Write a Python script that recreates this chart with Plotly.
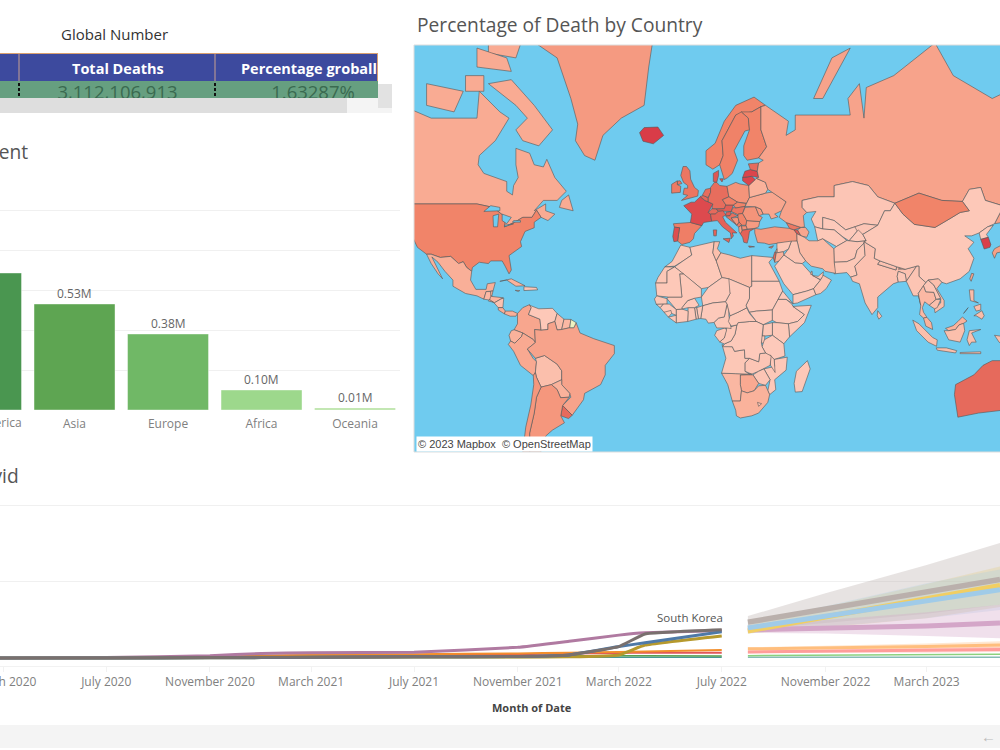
import math
import plotly.graph_objects as go
from plotly.colors import sample_colorscale

FONT = "Open Sans"
W, H = 1000, 750
def fx(p): return p / W
def fy(p): return 1 - p / H

# ---- data ----
kpi_headers = ["Total Deaths", "Percentage groball"]
kpi_values = ["3,112,106,913", "1.63287%"]

continents = ["North America", "Asia", "Europe", "Africa", "Oceania"]
continent_deaths = [0.685, 0.53, 0.38, 0.10, 0.01]
continent_colors = ["#4a9650", "#5ea552", "#70b866", "#9dd88c", "#b5e2a1"]

actual_dates = ["2020-02-01","2020-07-01","2020-11-01","2021-01-01","2021-03-01","2021-07-01",
                "2021-11-01","2022-01-01","2022-03-01","2022-04-01","2022-07-01"]
forecast_dates = ["2022-08-01","2022-11-01","2023-03-01","2023-05-27"]
tick_dates = ["2020-03-01","2020-07-01","2020-11-01","2021-03-01","2021-07-01","2021-11-01",
              "2022-03-01","2022-07-01","2022-11-01","2023-03-01"]

act_green2 = [0,0,0.1,0.3,0.5,0.7,0.8,0.9,1,1,1]
act_green = [0,0.1,0.3,1,1.5,2,2.5,3,3,3,2.6]
act_red = [0,0.2,1,2.5,3.5,4,5,6,6.5,7,7]
act_orange = [0,0.2,1,3,4,5,6,7,8,8.5,10.5]
act_purple = [0,0.5,3,6,7,7.5,14,22,30,33,36]
act_yellow = [0,0,0.3,0.5,1,1.2,1.4,1.5,4,17,29]
act_blue = [0,0,0.3,0.5,1,1.5,2,4,15,20,34.5]
act_korea = [0,0,0.5,1,1,1.5,2,4,15,31.5,37]

fc_green2 = [1,1,1,1]
fc_green = [3,3.5,4,5]
fc_red = [8,9,10,11]
fc_orange = [12,13,15,17]
fc_purple = [37,39,42,46]
fc_yellow = [35.5,54,78,95]
fc_blue = [39.5,55,75,89.5]
fc_korea = [47,64,86,103]

hi_orange = [14,16,19,22]; lo_orange = [10,11,12,13]
hi_red = [10,11,13,15]; lo_red = [6,7,7,8]
hi_purple = [42,50,60,70]; lo_purple = [33,32,29,26]
hi_yellow = [43,67,97,120]; lo_yellow = [32,40,52,67]
hi_blue = [47,68,98,116]; lo_blue = [32,41,52,63]
hi_korea = [55,85,122,151]; lo_korea = [37,46,58,70]

# percentage shade per country, 0 = palest, 1 = deepest
country_values = {
 "Canada":.25,"USA":.5,"Mexico":.22,"Guatemala":.15,"Belize":.2,"Honduras":.18,"ElSalvador":.18,"Nicaragua":.08,"CostaRica":.25,"Panama":.22,
 "Cuba":.2,"Hispaniola":.05,"Jamaica":.15,"Greenland":.36,"Iceland":1,
 "Colombia":.28,"Venezuela":.03,"Guyana":.12,"Suriname":.15,"Ecuador":.2,"Peru":.26,"Bolivia":.1,"Brazil":.3,"Paraguay":.2,"Uruguay":.72,"Argentina":.38,"Chile":.38,
 "Spain":.55,"Portugal":.9,"France":.92,"Belgium":.75,"Netherlands":.7,"Germany":.7,"Switzerland":.72,"Austria":.8,"Italy":.78,"Poland":.4,"Czechia":.55,"Slovakia":.5,"Hungary":.62,"Slovenia":.8,
 "Croatia":.68,"Bosnia":.4,"Serbia":.5,"Montenegro":.6,"Albania":.35,"Macedonia":.42,"Greece":.78,"Bulgaria":.35,"Romania":.4,"Moldova":.35,"Ukraine":.28,"Belarus":.2,
 "Lithuania":.95,"Latvia":.95,"Estonia":.72,"Denmark":.85,"Norway":.5,"Sweden":.52,"Finland":.5,"UK":.62,"NIreland":.62,"Ireland":.58,
 "Turkey":.36,"Georgia":.6,"Armenia":.85,"Azerbaijan":.28,"Cyprus":.6,"Russia":.3,"Kazakhstan":.05,"Uzbekistan":.02,"Turkmenistan":.03,"Kyrgyzstan":.05,"Tajikistan":.02,"Afghanistan":.05,"Pakistan":.04,"Iran":.14,"Iraq":.06,"Syria":.04,"Lebanon":.2,"Israel":.72,"Jordan":.2,"Saudi":.02,"Yemen":.02,"Oman":.06,"UAE":.06,"Qatar":.1,
 "India":.08,"Nepal":.08,"Bhutan":.06,"Bangladesh":.03,"SriLanka":.12,"China":.03,"Mongolia":.5,"NKorea":.02,"SKorea":.98,"Japan":.32,"Taiwan":.3,"Myanmar":.06,"Thailand":.15,"Laos":.05,"Vietnam":.1,"Cambodia":.1,"Malaysia":.2,"Indonesia":.1,"Philippines":.12,"Australia":.72,
 "Morocco":.04,"WSahara":.04,"Algeria":.03,"Tunisia":.1,"Libya":.1,"Egypt":.03,"Sudan":.02,"SSudan":.02,"Eritrea":.02,"Ethiopia":.02,"Somalia":.02,"Kenya":.03,"Uganda":.03,"Rwanda":.03,"Tanzania":.02,"Mozambique":.03,"Malawi":.03,"Zambia":.05,"Zimbabwe":.05,"Botswana":.26,"Namibia":.16,"SouthAfrica":.2,"Lesotho":.05,"Angola":.04,"DRCongo":.02,"Congo":.03,"Gabon":.04,"Cameroon":.03,"CAR":.03,"Chad":.02,"Niger":.02,"Nigeria":.02,"Benin":.02,"Togo":.02,"Ghana":.03,"IvoryCoast":.03,"Burkina":.02,"Mali":.03,"Mauritania":.03,"Senegal":.04,"Guinea":.02,"SierraLeone":.03,"Liberia":.03,"GuineaBissau":.03,"Madagascar":.03,
}
french_guiana_outline = [(-54,5.9),(-51.7,4.5),(-52.7,2.3),(-54.5,2.3)]

# coarse country outlines (lon, lat) read by eye
country_outlines = {
 "Canada":[[(-141,70),(-128,70),(-115,68),(-108,68),(-95,68),(-94,72),(-85,69),(-81,68),(-87,64),(-94,61),(-94.5,59),(-92,57),(-85,55.5),(-82,55),(-82,52.5),(-79.5,51.5),(-79,54),(-77,56),(-78,59),(-78,62.5),(-72,61.5),(-70,59),(-66,58.5),(-64.5,60.2),(-61,56),(-56,52.5),(-60,50),(-66,50),(-70,47),(-65,49),(-65,47),(-61,46),(-64,44),(-67,45),(-69,47.2),(-71,45),(-75,45),(-79,43.3),(-83,42),(-82.5,45),(-88,48),(-95,49),(-123,49),(-130,54),(-135,59),(-141,60)],
   [(-62,66),(-68,63),(-75,64),(-78,66),(-73,68),(-78,70),(-90,73),(-80,73.5),(-70,70)],[(-117,70),(-105,69),(-101,72),(-117,73)],[(-90,76.5),(-78,76),(-75,78),(-60,82),(-90,82)],[(-95,75),(-80,74.5),(-82,76),(-95,77)],[(-100,72),(-92,72),(-92,74),(-100,74)],[(-59,48),(-53,47),(-55,51.5),(-58,50)]],
 "USA":[[(-125,49),(-95,49),(-88,48),(-84,46),(-82.5,45),(-83,42),(-79,43.3),(-75,45),(-71,45),(-69,47.2),(-67,45),(-70,43.5),(-70,41.7),(-74,40.5),(-76,37),(-75.5,35.3),(-81,32),(-80,26.5),(-81,25),(-82.7,28),(-84,30),(-89,30),(-90,29),(-94,29.5),(-97,27.5),(-97.3,26),(-99.5,27.5),(-101,29.7),(-103,29),(-106.5,31.7),(-111,31.3),(-115,32.5),(-117,32.5),(-121,35),(-124,40)]],
 "Mexico":[[(-117,32.5),(-115,32.5),(-111,31.3),(-106.5,31.7),(-103,29),(-101,29.7),(-99.5,27.5),(-97.3,26),(-97.8,22.5),(-95.5,18.7),(-91,18.7),(-90.5,21),(-87,21.5),(-88,18),(-91,17.8),(-92,14.6),(-95,16),(-100,17),(-105.5,20),(-105.5,22.5),(-109,26),(-112,29.5),(-114.7,31.5),(-112,27),(-110,23),(-112,25),(-115,29)]],
 "Guatemala":[[(-92,14.6),(-91,17.8),(-89,17.8),(-88.5,15.8),(-89.5,14.2)]],"Belize":[[(-89,18),(-88,18),(-88.5,16),(-89,16)]],"Honduras":[[(-89,15.8),(-83.5,15.2),(-84.5,14.7),(-87.5,13),(-89.5,14.2)]],"ElSalvador":[[(-90,13.8),(-88,13.2),(-87.7,13.3),(-89.5,14.4)]],"Nicaragua":[[(-87.5,13),(-84.5,14.7),(-83.3,15),(-83.7,11),(-85.7,11)]],"CostaRica":[[(-85.7,11),(-83.7,11),(-82.6,9.5),(-83,8.3),(-85.7,10)]],"Panama":[[(-83,8.3),(-82.6,9.5),(-79.5,9.5),(-77.3,8.5),(-78,7.3),(-80.5,7.3)]],
 "Cuba":[[(-85,22),(-80,23),(-74,20.2),(-78,20),(-82,22.5)]],"Hispaniola":[[(-74.5,19.8),(-69,19.5),(-68.5,18.5),(-74.5,18.2)]],"Jamaica":[[(-78.3,18.3),(-76.3,18.2),(-77,17.8)]],
 "Greenland":[[(-73,78),(-60,76),(-54,71),(-51,67),(-52,64),(-48,61),(-43.5,60),(-40,65),(-32,68),(-22,70),(-20,75),(-18,78),(-18,82),(-60,82)]],
 "Iceland":[[(-24,65.5),(-22,66.4),(-16,66.5),(-13.5,65),(-18,63.4),(-22.5,63.9)]],
 "Colombia":[[(-77.3,8.5),(-75,11),(-72,12.3),(-71.3,11),(-72.5,8),(-70,7),(-67.5,6),(-67,1.2),(-69.8,1.5),(-69.5,-4.2),(-70.5,-2.8),(-75,0),(-78.8,1.4),(-77.3,4),(-77.5,7)]],
 "Venezuela":[[(-72,12),(-68,10.5),(-62,10.7),(-60,8.5),(-61,5),(-64,4),(-64,1.5),(-67,1.2),(-67.5,6),(-70,7),(-72.5,8),(-71.3,11)]],
 "Guyana":[[(-60,8.5),(-57,6),(-58,1.5),(-60,1.3),(-61,5)]],"Suriname":[[(-57,6),(-54,5.9),(-54.5,2.3),(-56,2),(-58,1.5)]],
 "Ecuador":[[(-80,1),(-78.8,1.4),(-75,0),(-75.5,-1.5),(-78.5,-4.5),(-80.3,-3.5),(-81,-1)]],
 "Peru":[[(-80.3,-3.5),(-78.5,-4.5),(-75.5,-1.5),(-75,0),(-70.5,-2.8),(-69.5,-4.2),(-73,-7),(-70.5,-11),(-69,-12.5),(-69.5,-17),(-70.4,-18.3),(-76,-14),(-79,-8),(-81.3,-5)]],
 "Bolivia":[[(-69.5,-11),(-65.5,-9.8),(-60,-13.5),(-58,-16.3),(-58,-20),(-62.5,-22),(-67,-23),(-69,-19),(-69.5,-17),(-69,-12.5)]],
 "Brazil":[[(-51.7,4.5),(-50,0),(-44,-2.5),(-35,-5.5),(-35,-9),(-39,-14),(-39,-18),(-41,-22),(-48,-25.5),(-48.5,-28),(-53.4,-33.8),(-57.6,-30.2),(-54,-27),(-54.5,-25.5),(-58,-22),(-58,-16.3),(-60,-13.5),(-65.5,-9.8),(-69.5,-11),(-73,-7),(-69.5,-4.2),(-69.8,1.5),(-67,1.2),(-64,1.5),(-64,4),(-61,5),(-60,1.3),(-58,1.5),(-54.5,2.3),(-52.7,2.3)]],
 "Paraguay":[[(-62.5,-22),(-58,-20),(-58,-22),(-54.5,-25.5),(-54.7,-27),(-58.5,-27.2),(-60,-24)]],
 "Uruguay":[[(-57.6,-30.2),(-53.4,-33.8),(-55,-35),(-58.4,-34)]],
 "Argentina":[[(-67,-23),(-62.5,-22),(-60,-24),(-58.5,-27.2),(-54.7,-27),(-57.6,-30.2),(-58.4,-34),(-56.8,-36.5),(-62,-39),(-65,-41),(-65,-45),(-67.5,-46),(-72,-46),(-72,-40),(-70,-33),(-69,-27)]],
 "Chile":[[(-70.4,-18.3),(-69.5,-17),(-69,-19),(-67,-23),(-69,-27),(-70,-33),(-72,-40),(-72,-46),(-75,-46),(-73.7,-38),(-71.5,-30),(-70.2,-22)]],
 "Spain":[[(-9.2,43),(-1.8,43.4),(3.2,42.4),(0,39.8),(-0.5,38),(-2,36.8),(-5.5,36),(-7.4,37.2),(-7,39.5),(-6.5,41.7),(-8.8,41.9)]],
 "Portugal":[[(-8.8,41.9),(-6.5,41.7),(-7,39.5),(-7.4,37.2),(-9,37),(-9.5,38.8)]],
 "France":[[(-1.8,43.4),(3.2,42.4),(4,43.4),(7.5,43.8),(7,46),(6,46.5),(8,49),(4.5,50),(2.5,51),(0,49.5),(-1.5,49.5),(-4.7,48.5),(-1.2,46)]],
 "Belgium":[[(2.5,51.1),(4.2,51.4),(6,50.6),(6,49.6),(4.5,50)]],"Netherlands":[[(3.4,51.4),(6,50.8),(7,52.2),(7,53.3),(4.8,53)]],
 "Germany":[[(6,50.6),(6,49.6),(8,49),(7.6,47.6),(13,47.6),(13.7,48.7),(12.2,50.2),(15,51),(14.2,53.8),(11,54),(9.7,54.8),(8.7,54.8),(7,53.5),(7,52.2)]],
 "Switzerland":[[(6,46.5),(7.6,47.6),(9.6,47.5),(10.4,46.7),(9,46),(7,46)]],"Austria":[[(9.6,47.5),(13,47.6),(13.7,48.7),(17,48.7),(16,46.8),(10.4,46.9)]],
 "Italy":[[(7,46),(7.5,43.8),(10,44),(12.2,42),(15.7,40),(16,38),(17,39),(16.5,40),(18.5,40),(16,41.8),(13.5,43.5),(12.3,45.2),(13.7,45.7),(12.5,47),(10.4,46.8),(9,46)],[(12.5,38),(15.6,38.2),(15,36.7)],[(8.2,41),(9.7,41),(9.5,39),(8.4,39)]],
 "Poland":[[(14.2,53.8),(15,51),(18.8,49.5),(22.7,49.2),(24,50.8),(23.7,54),(19.8,54.4),(18,54.8)]],
 "Czechia":[[(12.2,50.2),(13.7,48.7),(17,48.7),(18.8,49.5),(15,51)]],"Slovakia":[[(17,48.7),(18.8,49.5),(22.5,49.1),(22.1,48.3),(18,47.8)]],
 "Hungary":[[(16,46.8),(17,48),(18,47.8),(22.1,48.3),(21,46.2),(18.8,45.9)]],"Slovenia":[[(13.7,45.5),(13.7,46.5),(16,46.8),(15.5,45.5)]],
 "Croatia":[[(13.6,45.3),(15.5,45.5),(16.3,46.4),(19,45.5),(16,44.8),(18.5,42.5),(15,44.5)]],"Bosnia":[[(16,44.8),(19,45),(19.5,43.5),(18.5,42.5)]],
 "Serbia":[[(19,46),(21,46.2),(22.8,44),(22.5,42.5),(20.5,42.5),(19.5,43.5),(19,45)]],"Montenegro":[[(18.5,42.5),(19.5,43.5),(20.5,42.7),(19.3,41.9)]],
 "Albania":[[(19.3,41.9),(20.5,42.5),(20.8,40.5),(20,39.7),(19.4,40.5)]],"Macedonia":[[(20.5,42.3),(22.8,42.3),(23,41.2),(20.9,40.9)]],
 "Greece":[[(20,39.7),(21,40.9),(26.3,41.5),(24,40.5),(23.5,38),(23,36.5),(21.5,36.8),(21,38.5)],[(23.6,35.5),(26.2,35.2),(24,35)]],
 "Bulgaria":[[(22.5,42.5),(22.8,44),(28.5,43.7),(28,42),(26.3,41.5),(23,41.3)]],"Romania":[[(21,46.2),(22.1,48),(26.6,48.2),(28.2,45.5),(29.6,45),(28.5,43.7),(22.8,44)]],
 "Moldova":[[(26.6,48.2),(29,47.5),(30,46),(28.2,45.5)]],
 "Ukraine":[[(22.1,48.3),(22.7,49.2),(24,50.8),(31,52),(34,52.3),(40,49.6),(38,47),(35,46),(36.5,45.2),(33.5,44.5),(32.5,46),(30,46),(29,47.5),(26.6,48.2)]],
 "Belarus":[[(24,50.8),(23.7,54),(27,55.8),(31,54.8),(32,53),(31,52)]],"Lithuania":[[(21,56),(21,55.2),(23.7,54),(26.5,55.5),(25,56.3)]],
 "Latvia":[[(21,56),(25,56.3),(28,56),(27.4,57.5),(24.4,57.9),(22,57.5)]],"Estonia":[[(23.5,59.2),(28,59.4),(27.4,57.5),(24.4,57.9)]],
 "Denmark":[[(8.2,55),(9.7,54.8),(10.5,56.5),(10.5,57.7),(8.2,57)],[(11,55.7),(12.6,55.7),(12,54.9)]],
 "Norway":[[(5,59),(8,58),(11,59),(12.5,61),(12,64),(14.5,66),(18,68.5),(25,69),(29,69.8),(31,70),(26,71.2),(18,70),(13,67.5),(9,63.5),(5,62)]],
 "Sweden":[[(11,59),(13,55.5),(14.5,56),(16.5,57),(18.8,60),(17.3,62),(22,65.8),(24,66),(23.5,68),(20.5,69),(18,68.5),(14.5,66),(12,64),(12.5,61)]],
 "Finland":[[(23.5,68),(24,66),(21.5,63),(21.5,61),(23,60),(28,60.5),(31.5,62.8),(29,66),(29,69.8),(25,69),(20.5,69)]],
 "UK":[[(-5.7,50),(1.4,51.2),(1.7,52.7),(0,53.5),(-1.7,55.6),(-2,57.6),(-3.5,58.6),(-5,58.6),(-6,56.5),(-4.8,54.8),(-3,54),(-3,53.3),(-4.5,53.3),(-5,51.7),(-3,51.4)]],
 "NIreland":[[(-7.5,54.2),(-5.5,54.5),(-6.3,55.2),(-7.5,55.1)]],"Ireland":[[(-10,52),(-6.2,52.2),(-6,53.8),(-7.5,54.2),(-7.5,55.2),(-10,54.3)]],
 "Turkey":[[(26.3,40),(26.3,41.5),(29,41.2),(35,42),(41.5,41.5),(43.5,41),(44.7,39.7),(44.8,37.2),(36.5,36.5),(32.5,36),(30.5,36.5),(27.5,36.7)]],
 "Georgia":[[(40,43.4),(46.5,41.8),(43.5,41),(41.5,41.5)]],"Armenia":[[(43.5,41),(45,41),(46.5,39),(44.7,39.7)]],"Azerbaijan":[[(45,41),(46.5,41.8),(48.5,41.8),(50,40.3),(49,38.5),(46.5,39)]],"Cyprus":[[(32.4,35),(34.5,35.6),(33.7,34.7)]],
 "Russia":[[(28,59.4),(30,60),(28,60.5),(31.5,62.8),(29,66),(29,69.8),(31,70),(41,67.5),(40,65),(44,66),(44,68.5),(54,68.5),(68,68.5),(67,71),(72,73),(74,68),(75,72.5),(87,74),(105,77.5),(113,74),(130,71),(140,72.5),(180,69),(180,65),(160,60),(156,51),(156,57),(142,59),(135,54.5),(141,52),(135,43.5),(131,43),(135,48.4),(127,50),(125,53.5),(120,53),(117,49.7),(108,50),(98,52),(87.5,49.2),(80,51),(76,54),(69,55),(61,54),(61,51),(54,51),(47,50),(47,48),(49,46.5),(47.5,45.5),(48,42),(46.5,41.8),(40,43.4),(37,45),(38,47),(40,49.6),(34,52.3),(32,53),(31,54.8),(27,55.8),(28,56),(27.4,57.5)],[(52,71),(56,71),(68,77),(60,76)]],
 "Kazakhstan":[[(47,48),(47,50),(54,51),(61,51),(61,54),(69,55),(76,54),(80,51),(87.5,49.2),(85.5,47),(83,47),(80,42.5),(74,43),(70,42),(66,41),(61,44),(56,45),(56,41.3),(52.5,42),(51,44.5),(53,46.8),(49,46.5)]],
 "Uzbekistan":[[(56,45),(61,44),(66,41),(70,42),(71.5,41),(67.5,37.3),(64.5,38.8),(61,41),(56,41.3)]],"Turkmenistan":[[(52.5,42),(56,41.3),(61,41),(64.5,38.8),(66.5,37.4),(62,35.3),(56,38),(53.8,37.3),(53,40)]],
 "Kyrgyzstan":[[(70,42),(74,43),(80,42.5),(73.5,39.5),(71.5,40)]],"Tajikistan":[[(67.5,37.3),(71.5,41),(73.5,39.5),(75,37.3),(71,37)]],
 "Afghanistan":[[(60.8,34.5),(62,35.3),(66.5,37.4),(71,37),(75,37.3),(71,34),(70,31),(66.5,29.7),(61,29.5)]],
 "Pakistan":[[(61,25),(66.5,25.5),(68.2,23.7),(71,24.5),(70,28),(74.5,32),(74,37),(75,37.3),(71,34),(70,31),(66.5,29.7),(61,29.5)]],
 "Iran":[[(44.7,39.7),(48,38.5),(50,37.3),(53.8,37.3),(56,38),(60.8,34.5),(61,29.5),(61.6,25.2),(57,26),(56,27),(51,28),(48.5,30),(46,33),(44.8,37.2)]],
 "Iraq":[[(44.8,37.2),(46,33),(48.5,30),(47,29),(44,29.2),(39,32.2),(41,34.4),(42.3,37.2)]],"Syria":[[(36,36.5),(42.3,37.2),(41,34.4),(38.8,33.4),(36,33)]],
 "Lebanon":[[(35.1,33.2),(36,34.5),(36,33.3)]],"Israel":[[(34.3,31.3),(35,33.2),(35.7,33),(35,29.6)]],"Jordan":[[(35,29.4),(35.7,33),(38.8,33.4),(39,32.2),(37,30)]],
 "Saudi":[[(35,28),(37,30),(39,32.2),(44,29.2),(47,29),(48,28),(50,26),(51.5,24.5),(55,22.5),(52,19),(49,18),(43,16.5),(39,21)]],
 "Yemen":[[(43,12.7),(43,16.5),(49,18),(52,19),(53,16.5),(45,13)]],"Oman":[[(55,22.5),(56,24.5),(59.8,22.5),(57.5,19),(55,17),(53,16.5),(52,19)]],"UAE":[[(51.5,24.3),(54,24),(56.3,25.8),(56,24),(55,22.7)]],"Qatar":[[(50.8,24.7),(51.5,24.7),(51.3,26.1),(50.9,25.9)]],
 "India":[[(68.2,23.7),(71,24.5),(70,28),(74.5,32),(74,37),(79,34.5),(78.5,31),(81,30),(80,28.7),(88,26.5),(88.2,27.8),(92,26.8),(97,28),(94,24),(92.5,22),(92,25),(89,26),(88.5,24),(89,21.7),(86.8,21),(80,15.5),(80,11),(77.5,8),(74.5,13),(72.8,19),(72,21),(69,22)]],
 "Nepal":[[(80,28.7),(81,30),(88.2,27.8),(88,26.5)]],"Bhutan":[[(89,27),(92,27.5),(92,26.8),(89,26.8)]],"Bangladesh":[[(88.5,24),(89,26),(92,25),(92.5,22),(89,21.7)]],"SriLanka":[[(80,9.7),(81.8,7.3),(80.5,6),(79.8,7.5)]],
 "China":[[(74,37),(75,37.3),(73.5,39.5),(80,42.5),(83,47),(85.5,47),(87.5,49.2),(91,46),(96,42.8),(105,41.8),(112,44.8),(116,46.5),(120,47),(117,49.7),(120,53),(125,53.5),(127,50),(135,48.4),(131,43),(128,42),(124.3,40),(121,39),(118,39),(120.5,37.5),(122,36.8),(119.5,34.5),(122,31),(120,26),(116,23),(110,21),(108,21.6),(106.5,23),(102,22.5),(101,21.5),(98,24),(98,28),(97,28),(92,26.8),(88.2,27.8),(81,30),(78.5,31),(79,34.5)]],
 "Mongolia":[[(87.5,49.2),(98,52),(108,50),(117,49.7),(120,47),(116,46.5),(112,44.8),(105,41.8),(96,42.8),(91,46)]],
 "NKorea":[[(124.3,40),(128,42),(130.5,42.5),(127.5,39.5),(128.3,38.5),(125,37.8)]],"SKorea":[[(125,37.8),(128.3,38.5),(129.4,36),(129,35),(126.5,34.4)]],
 "Japan":[[(130,33),(131,31),(132,33),(135,33.5),(140,35),(141.5,38),(141.5,41),(140,40),(137,37),(133,35.5),(131,34.5)]],"Taiwan":[[(120.2,23),(121,25.2),(122,25),(120.8,22)]],
 "Myanmar":[[(92.5,22),(94,24),(97,28),(98,28),(98,24),(101,21.5),(100,20.3),(97.7,17),(98.8,12),(97.8,16),(95.5,16),(94.3,18.5)]],
 "Thailand":[[(97.7,17),(100,20.3),(101,17.7),(104.5,17.5),(105.5,14.5),(102.5,12),(100.5,13.5),(99.5,11),(100,9),(101.5,6.8),(100,6.5),(98.3,8),(98.8,12)]],
 "Laos":[[(100,20.3),(101,21.5),(102,22.5),(104.5,20.5),(107.5,15),(105.5,14.5),(104.5,17.5),(101,17.7)]],
 "Vietnam":[[(102,22.5),(106.5,23),(108,21.6),(105.8,19),(109,14),(109,11.5),(105,8.8),(104.8,10.5),(107.5,13),(107.5,15),(104.5,20.5)]],"Cambodia":[[(102.5,12),(105.5,14.5),(107.5,14.5),(106,11),(104.8,10.5)]],
 "Malaysia":[[(100,6.5),(101.5,6.8),(103.5,4.5),(104,1.5),(101,3)],[(109.6,2),(113,3.2),(115,5),(117,7),(119,5.2),(117.5,4.2),(115.5,3.5),(114,1.5),(111,1)]],
 "Indonesia":[[(95.3,5.6),(98,4),(104,-2),(106,-3),(105.7,-5.8),(102,-4),(97,1)],[(109,1),(111,1),(114,1.5),(115.5,3.5),(117.5,4.2),(118,1),(116,-4),(111,-3),(110,-1)],[(105.5,-6.5),(110,-6.5),(114.5,-7.7),(114,-8.7),(106,-7.5)],[(120,1),(125,1.5),(121,0),(123,-4),(121,-4),(120,-5.5),(119,-3)],[(116,-8.5),(125,-8.2),(125,-9),(116,-9)],[(131,-1),(141,-2.5),(141,-9),(138,-8),(133,-4)]],
 "Philippines":[[(120,18.5),(122,18.5),(122,14),(124,13),(120.5,14)],[(122,7.5),(125.5,9.7),(126.5,7.5),(125.5,6),(123,7.5)],[(117.5,8.5),(119.5,11),(119,10.5)],[(122,11.5),(125,12.5),(125,10),(123,9.5)]],
 "Australia":[[(114,-22),(122,-18),(126,-14),(130,-12),(136,-12),(136,-15),(141,-17),(142,-11),(146,-19),(153,-26),(150,-37),(144,-38.5),(138,-35),(134,-32),(124,-33),(115,-34.5),(113.5,-26)]],
 "Morocco":[[(-9.8,29.8),(-6,35.8),(-2,35),(-1.2,32.2),(-5,30),(-8.7,28),(-13,27.7)]],"WSahara":[[(-13,27.7),(-8.7,27.7),(-12,26),(-12,21.3),(-17,21.3),(-16,23.5)]],
 "Algeria":[[(-2,35),(8.6,37),(8,33),(9.5,30),(12,23.5),(6,19.5),(3,19),(-4.8,25),(-8.7,27.7),(-5,30),(-1.2,32.2)]],"Tunisia":[[(8.6,37),(11,37),(10,34.5),(11.5,33),(9.5,30),(8,33)]],
 "Libya":[[(11.5,33),(15,32.3),(20,31),(25,32),(25,20),(24,19.5),(15,23),(12,23.5),(9.5,30)]],"Egypt":[[(25,32),(34.3,31.3),(32.5,29.5),(35.7,23.9),(37,22),(25,22)]],
 "Sudan":[[(25,22),(37,22),(38.5,18),(36.5,14.5),(34,10),(27,9.5),(24,9),(22.5,12),(24,15),(24,19.5),(25,20)]],"SSudan":[[(24,9),(27,9.5),(34,10),(34,5.5),(30,3.6),(27,5)]],
 "Eritrea":[[(36.5,14.5),(38.5,18),(43,12.7),(40,14.5)]],"Ethiopia":[[(34,10),(36.5,14.5),(40,14.5),(42.5,12.5),(43,11.5),(48,8),(45,5),(41,4),(36,4.5),(34,5.5)]],
 "Somalia":[[(43,11.5),(51,12),(48,4.5),(41.5,-1.7),(41,4),(45,5),(48,8)]],"Kenya":[[(34,4.5),(36,4.5),(41,4),(41.5,-1.7),(39,-4.7),(34,-1),(34,1)]],"Uganda":[[(30,3.6),(34,4.5),(34,-1),(29.7,-1.4)]],"Rwanda":[[(29,-1.3),(30.7,-1.3),(30.5,-4.4),(29.2,-4.4)]],
 "Tanzania":[[(34,-1),(39,-4.7),(39.5,-10),(34.8,-11.5),(31,-8.7),(29.5,-6),(30.5,-3)]],"Mozambique":[[(34.8,-11.5),(40.5,-10.5),(40,-16),(35,-20),(35.5,-24),(32.8,-26),(32,-24.5),(33,-20),(30.3,-15.5),(35,-14.5)]],
 "Malawi":[[(33,-9.5),(34.8,-11.5),(35,-14.5),(35.2,-17),(33.2,-14)]],"Zambia":[[(22,-13),(24,-11),(28,-12.5),(28.5,-9),(31,-8.7),(33.5,-10),(33,-14),(30.3,-15.5),(28,-16.5),(25,-17.7),(22,-16.5)]],
 "Zimbabwe":[[(25.5,-18),(28,-16.5),(30.3,-15.5),(33,-20),(31,-22.3),(28,-21.5)]],"Botswana":[[(20,-18),(25.5,-18),(28,-21.5),(26,-24.5),(23,-25.3),(20.5,-24.5),(20,-22)]],
 "Namibia":[[(11.8,-17.3),(18,-17.5),(25,-17.7),(20,-18),(20,-22),(20.5,-24.5),(20,-28.5),(16.5,-28.5),(14.5,-22)]],
 "SouthAfrica":[[(16.5,-28.5),(20,-28.5),(20.5,-24.5),(23,-25.3),(26,-24.5),(28,-22.5),(31,-22.3),(32,-24.5),(32.8,-26),(32,-29),(28,-33),(25,-34),(20,-34.8),(18.3,-34),(18,-32)]],"Lesotho":[[(27.5,-29),(29.3,-29.5),(28,-30.5)]],
 "Angola":[[(12,-5),(13,-5.8),(16.5,-6),(17.5,-8),(21.8,-7.3),(22,-11),(24,-11),(22,-13),(22,-16.5),(24,-17.7),(18,-17.5),(11.8,-17.3),(13.7,-11)]],
 "DRCongo":[[(12.3,-6),(13,-4.8),(16,-3.5),(17.7,-0.5),(18.5,3.5),(19,4.5),(24,5),(27,5),(30,3.6),(29.7,-1.4),(29.2,-4.4),(29.5,-6),(31,-8.7),(28.5,-9),(28,-12.5),(24,-11),(22,-11),(21.8,-7.3),(17.5,-8),(16.5,-6)]],
 "Congo":[[(11,-3.9),(13,-4.8),(16,-3.5),(17.7,-0.5),(18.5,3.5),(14,2.2),(13,-2.2)]],"Gabon":[[(8.8,-1),(9.7,1),(13.3,2.2),(14,1.3),(13,-2.2),(11,-3.9)]],
 "Cameroon":[[(8.5,4.6),(9.7,2.2),(14,2.2),(16,1.9),(15,7.5),(15,10),(14.2,12.5),(13,7),(10.5,6.5)]],"CAR":[[(14.8,5),(16,3),(18.5,3.5),(19,4.5),(24,5),(27,5),(24,8.5),(22.8,10.9),(19,9),(15.5,7.5)]],
 "Chad":[[(14.2,12.5),(15,10),(15.5,7.5),(19,9),(22.8,10.9),(22.5,12),(24,15),(24,19.5),(15,23),(14,22.5),(15.5,17),(13.5,13.5)]],"Niger":[[(3,15.5),(6,19.5),(12,23.5),(15,23),(15.5,17),(13.5,13.5),(8,13),(3.6,11.8)]],
 "Nigeria":[[(2.7,6.3),(5,6),(6,4.3),(8.5,4.6),(10.5,6.5),(13,7),(14.2,12.5),(13.5,13.5),(8,13),(3.6,11.8)]],"Benin":[[(1.7,6.2),(2.7,6.3),(3.6,11.8),(0.9,11)]],"Togo":[[(0.7,6),(1.7,6.2),(0.9,11),(0,11)]],"Ghana":[[(-3,5),(0.7,6),(0,11),(-2.8,11)]],
 "IvoryCoast":[[(-8,4.4),(-3,5),(-2.8,9.5),(-5.5,10.4),(-8,10.2)]],"Burkina":[[(-5.5,10.4),(-2.8,11),(0,11),(2,12),(0,15),(-3,14),(-5.5,11)]],
 "Mali":[[(-12,14.8),(-8,10.2),(-5.5,10.4),(-5.5,11),(-3,14),(0,15),(3,15.5),(3,19),(-4.8,25),(-6.5,25),(-5.5,15.5),(-11.5,15.5)]],
 "Mauritania":[[(-17,21.3),(-12,21.3),(-12,26),(-8.7,27.7),(-4.8,25),(-6.5,25),(-5.5,15.5),(-11.5,15.5),(-16.5,16)]],"Senegal":[[(-17.5,14.7),(-16.5,16),(-12,14.8),(-12,12.5),(-16.7,12.4)]],
 "Guinea":[[(-15,11),(-13.7,12.5),(-11,12.5),(-8,10.2),(-8,7.7),(-10,8.5),(-13.3,9)]],"SierraLeone":[[(-13.3,9),(-10.3,9.8),(-10,8.5),(-11.4,6.9)]],"Liberia":[[(-11.4,6.9),(-8,7.7),(-8,4.4)]],"GuineaBissau":[[(-16.7,12.4),(-13.7,12.5),(-15,11)]],
 "Madagascar":[[(49.3,-12),(50.5,-15.5),(47,-24.8),(44,-25),(43.5,-21.5),(44.5,-16.5)]],
}
lake_outlines = [[(-92,46.8),(-85,47),(-85,48),(-89,48.5)],[(-87.8,42),(-86,42),(-85.5,46),(-88,45.5)],[(-84,46),(-80,45),(-82,43),(-84,44)],[(-83,42),(-79,42.8),(-79,43),(-83,42.5)],[(-79.5,43.5),(-76,43.5),(-76,44),(-79,44)]]

OCEAN = "#6fcbef"
SCALE = [[0, "#fdccbd"], [0.25, "#f9ab93"], [0.5, "#f18469"], [0.75, "#e5675a"], [1, "#d93c48"]]

def merc(lat):
    return math.degrees(math.log(math.tan(math.pi / 4 + math.radians(lat) / 2)))

fig = go.Figure()

# ---- map ----
def add_poly(pts, fill):
    lons = [p[0] for p in pts] + [pts[0][0]]
    ys = [merc(p[1]) for p in pts] + [merc(pts[0][1])]
    fig.add_trace(go.Scatter(x=lons, y=ys, mode="lines", fill="toself", fillcolor=fill, line=dict(color="#555555", width=0.6),
                             xaxis="x4", yaxis="y4", showlegend=False, hoverinfo="skip"))
for name, polys in country_outlines.items():
    c = sample_colorscale(SCALE, [country_values[name]])[0]
    for poly in polys:
        add_poly(poly, c)
add_poly(french_guiana_outline, "#eef2c0")
for poly in lake_outlines:
    add_poly(poly, OCEAN)

# ---- bars ----
fig.add_trace(go.Bar(x=continents, y=continent_deaths, marker=dict(color=continent_colors, line=dict(color="rgba(255,255,255,0.4)", width=1)),
                     width=0.866, xaxis="x", yaxis="y", showlegend=False))

# ---- lines ----
def band(hi, lo, color):
    fig.add_trace(go.Scatter(x=forecast_dates + forecast_dates[::-1], y=hi + lo[::-1], fill="toself", fillcolor=color,
                             mode="none", xaxis="x2", yaxis="y2", showlegend=False))
band(hi_korea, lo_korea, "rgba(186,176,172,0.35)")
band(hi_yellow, lo_yellow, "rgba(225,205,140,0.35)")
band(hi_blue, lo_blue, "rgba(160,203,232,0.25)")
band(hi_purple, lo_purple, "rgba(212,166,200,0.35)")
band(hi_orange, lo_orange, "rgba(255,190,125,0.35)")
band(hi_red, lo_red, "rgba(255,157,154,0.35)")
for a, f, ca, cf, wa, wf in [(act_green2, fc_green2, "#499894", "#86bcb6", 1.5, 1.5), (act_green, fc_green, "#59a14f", "#8cd17d", 1.5, 1.5),
                     (act_red, fc_red, "#e15759", "#ff9d9a", 2, 3), (act_orange, fc_orange, "#f28e2b", "#ffbe7d", 2, 3),
                     (act_purple, fc_purple, "#b07aa1", "#d4a6c8", 3, 5), (act_yellow, fc_yellow, "#b6992d", "#f1ce63", 3, 5),
                     (act_blue, fc_blue, "#4e79a7", "#a0cbe8", 3, 5), (act_korea, fc_korea, "#79706e", "#bab0ac", 3, 5.5)]:
    fig.add_trace(go.Scatter(x=actual_dates, y=a, mode="lines", line=dict(color=ca, width=wa, shape="spline", smoothing=0.3),
                             xaxis="x2", yaxis="y2", showlegend=False))
    fig.add_trace(go.Scatter(x=forecast_dates, y=f, mode="lines", line=dict(color=cf, width=wf),
                             xaxis="x2", yaxis="y2", showlegend=False))

# ---- KPI values ----
fig.add_trace(go.Scatter(x=[117.5, 313], y=[-5, -5], mode="text", text=kpi_values, textposition="middle center",
                         textfont=dict(size=18.5, color="#3a6a50", family=FONT), xaxis="x3", yaxis="y3", showlegend=False, cliponaxis=True))

shapes = [
    dict(type="rect", xref="paper", yref="paper", x0=fx(414), x1=1, y0=fy(452), y1=fy(45), fillcolor=OCEAN, line=dict(width=0), layer="below"),
    dict(type="rect", xref="paper", yref="paper", x0=fx(0), x1=fx(378), y0=fy(81), y1=fy(54), fillcolor="#3d4a9e", line=dict(width=0), layer="below"),
    dict(type="line", xref="paper", yref="paper", x0=0, x1=fx(378), y0=fy(53.5), y1=fy(53.5), line=dict(color="#d9a070", width=1)),
    dict(type="rect", xref="paper", yref="paper", x0=fx(0), x1=fx(378), y0=fy(98), y1=fy(81), fillcolor="#669f80", line=dict(width=0), layer="below"),
    dict(type="line", xref="paper", yref="paper", x0=fx(19), x1=fx(19), y0=fy(81), y1=fy(54), line=dict(color="#c9a090", width=1)),
    dict(type="line", xref="paper", yref="paper", x0=fx(215), x1=fx(215), y0=fy(81), y1=fy(54), line=dict(color="#c9a090", width=1)),
    dict(type="line", xref="paper", yref="paper", x0=fx(377.5), x1=fx(377.5), y0=fy(81), y1=fy(54), line=dict(color="#d9a070", width=1)),
    dict(type="line", xref="paper", yref="paper", x0=fx(19), x1=fx(19), y0=fy(96), y1=fy(83), line=dict(color="#111", width=2, dash="3px,2px")),
    dict(type="line", xref="paper", yref="paper", x0=fx(215), x1=fx(215), y0=fy(96), y1=fy(83), line=dict(color="#111", width=2, dash="3px,2px")),
    dict(type="rect", xref="paper", yref="paper", x0=0, x1=fx(392), y0=fy(113), y1=fy(98), fillcolor="#f4f4f4", line=dict(width=0)),
    dict(type="rect", xref="paper", yref="paper", x0=0, x1=fx(347), y0=fy(113), y1=fy(98), fillcolor="#dedede", line=dict(width=0)),
    dict(type="rect", xref="paper", yref="paper", x0=fx(378), x1=fx(392), y0=fy(108), y1=fy(84), fillcolor="#e2e2e2", line=dict(width=0)),
    dict(type="rect", xref="paper", yref="paper", x0=0, x1=1, y0=fy(748), y1=fy(725), fillcolor="#f4f4f4", line=dict(width=0), layer="below"),
    dict(type="rect", xref="paper", yref="paper", x0=fx(414), x1=1.01, y0=fy(452), y1=fy(45), fillcolor="rgba(0,0,0,0)", line=dict(color="#dddddd", width=1)),
]

def note(px, py, text, size, color="#555", anchor="center", bold=False, family=FONT, **kw):
    return dict(xref="paper", yref="paper", x=fx(px), y=fy(py), text=f"<b>{text}</b>" if bold else text, showarrow=False,
                xanchor=anchor, yanchor="middle", font=dict(size=size, color=color, family=family), **kw)

annotations = [
    note(114.5, 34, "Global Number", 15, "#333"),
    note(117.5, 68, kpi_headers[0], 14.5, "#ffffff", bold=True),
    note(308.5, 68, kpi_headers[1], 14.5, "#ffffff", bold=True),
    note(415, 24, "Percentage of Death by Country", 19.2, "#555", anchor="left"),
    note(30, 151, "Total Deaths by Continent", 19.2, "#555", anchor="right"),
    note(21, 475, "Forecast of Covid", 19.2, "#555", anchor="right"),
    note(690, 617, "South Korea", 11.5, "#555"),
    note(532, 707, "Month of Date", 11, "#444", bold=True),
    note(-19, 423, continents[0], 12, "#808080"),
    note(988, 736, "←", 15, "#bbb"),
    note(504.5, 444, "© 2023 Mapbox  © OpenStreetMap", 11, "#444", family="Liberation Sans", bgcolor="#ffffff"),
]
annotations += [dict(xref="x", yref="y", x=c, y=v, text=f"{v:.2f}M", showarrow=False, yanchor="bottom", yshift=0,
                     font=dict(size=12, color="#666", family=FONT)) for c, v in zip(continents[1:], continent_deaths[1:])]

fig.update_layout(
    width=W, height=H, margin=dict(l=0, r=0, t=0, b=0, autoexpand=False), paper_bgcolor="#ffffff", plot_bgcolor="rgba(0,0,0,0)",
    font=dict(family=FONT), shapes=shapes, annotations=annotations, showlegend=False,
    xaxis=dict(domain=[0, fx(400)], range=[0.203, 4.481], categoryorder="array", categoryarray=continents, tickfont=dict(size=12, color="#808080"),
               showgrid=False, zeroline=False, ticks="", showline=False, ticklabelstandoff=5),
    yaxis=dict(domain=[fy(410), fy(190)], range=[0, 1.1], tickvals=[0.2, 0.4, 0.6, 0.8, 1.0], showticklabels=False, gridcolor="#f0f0f0",
               zeroline=False, showline=False),
    xaxis2=dict(domain=[0, 1], type="date", anchor="y2", range=["2020-02-26", "2023-05-27"], tickvals=tick_dates, tickformat="%B %Y",
                tickfont=dict(size=12, color="#808080"), showgrid=False, zeroline=False, showline=True, linecolor="#f2f2f2", ticks="outside", ticklen=5, tickcolor="#f2f2f2", ticklabeloverflow="allow"),
    yaxis2=dict(domain=[fy(666), fy(504)], range=[-10.5, 202], tickvals=[100, 200], showticklabels=False, gridcolor="#f0f0f0", zeroline=False, showline=False),
    xaxis3=dict(domain=[0, fx(378)], anchor="y3", range=[0, 378], visible=False),
    yaxis3=dict(domain=[fy(98), fy(81)], anchor="x3", range=[-8.5, 8.5], visible=False),
    xaxis4=dict(domain=[fx(414), 1], anchor="y4", range=[-122.5, 133.4], visible=False),
    yaxis4=dict(domain=[fy(452), fy(45)], anchor="x4", range=[-52, 125.8], visible=False),
)

fig.write_html("out.html", config={"displayModeBar": False}, post_script="document.body.style.margin='0';document.documentElement.style.overflow='hidden';")
